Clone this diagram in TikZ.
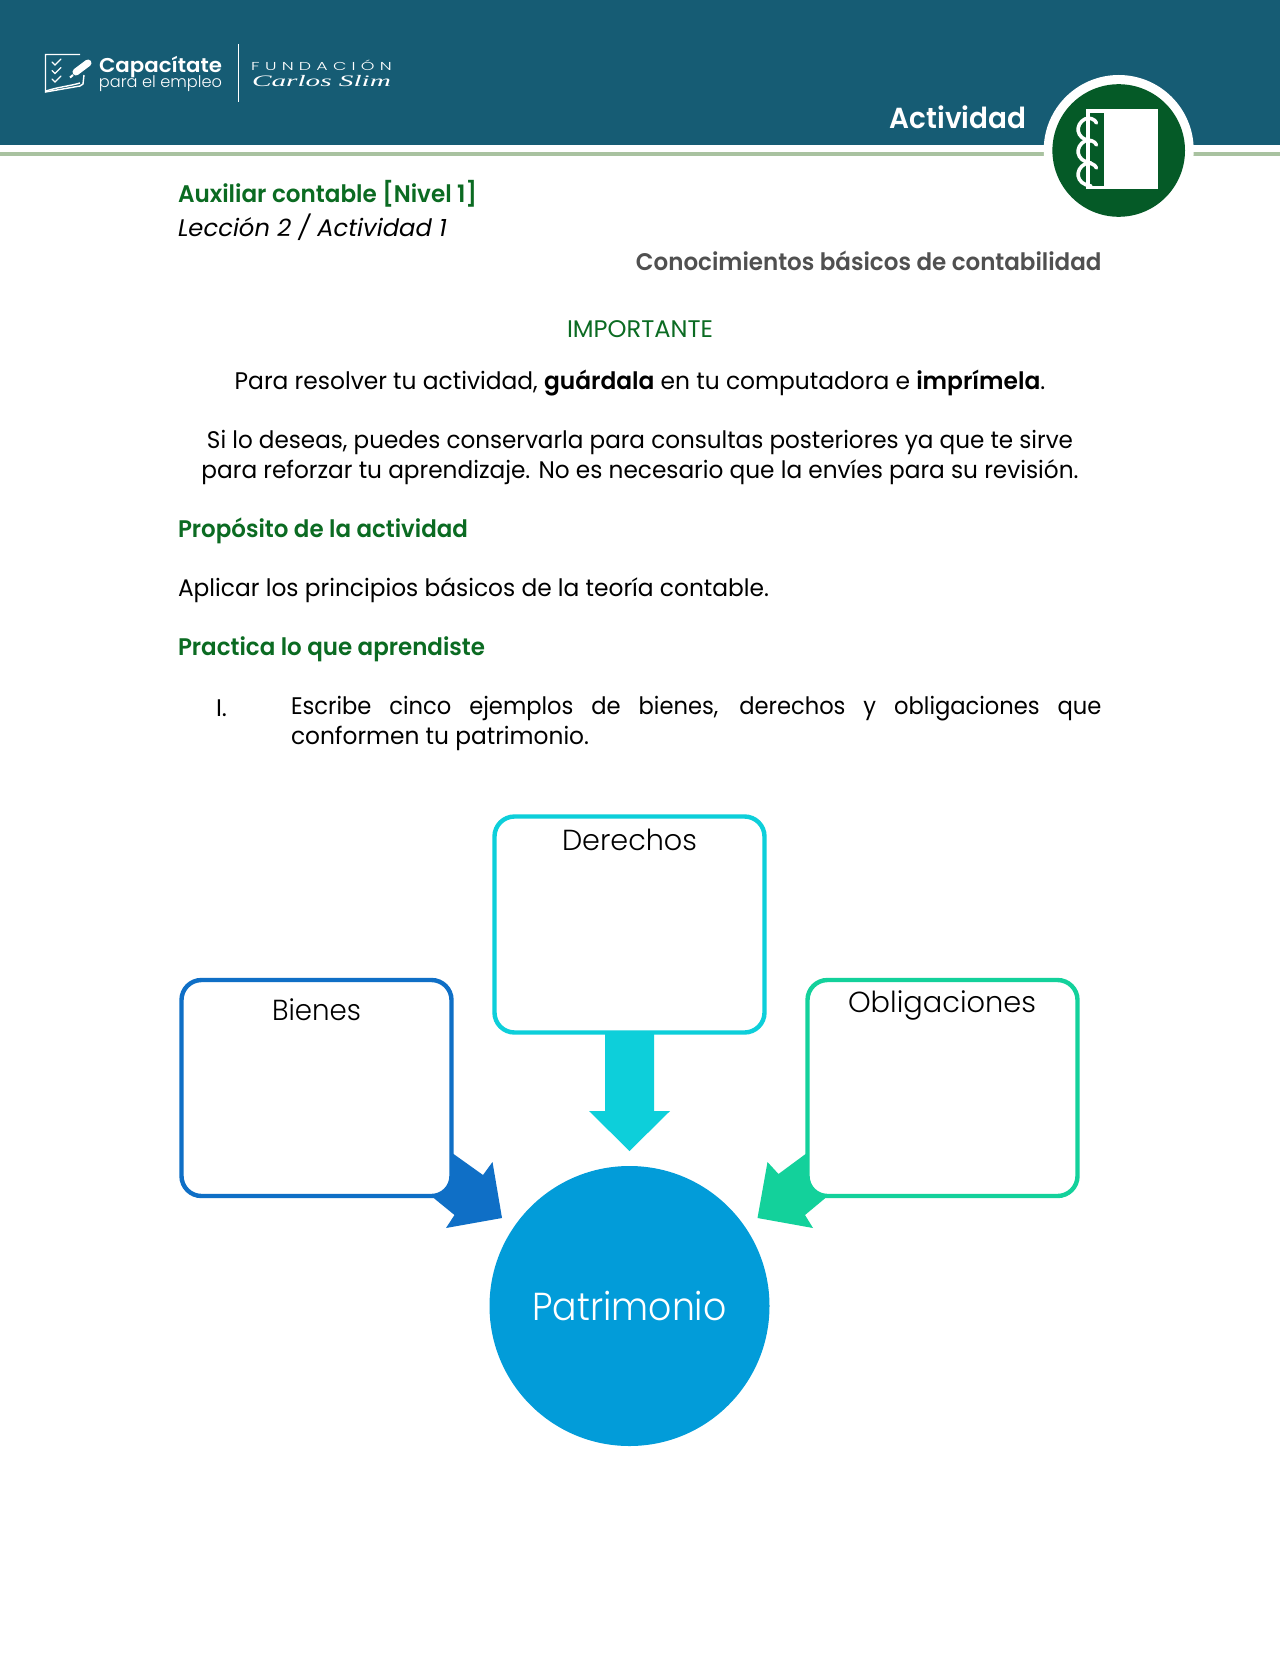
\documentclass[tikz,border=0pt]{standalone}
\usepackage{fontspec}
\usepackage{graphicx}
\setmainfont[BoldFont={Poppins SemiBold}]{Poppins}
\newfontfamily\scriptf{Liberation Serif}
\newfontfamily\lightf{Poppins Light}
\newfontfamily\spacedf[LetterSpace=30]{Poppins Light}
\definecolor{hdr}{HTML}{165C74}
\definecolor{band}{HTML}{A9C2A0}
\definecolor{dkgreen}{HTML}{055A27}
\definecolor{txgreen}{HTML}{0B6B22}
\definecolor{txgray}{HTML}{505050}
\definecolor{cblue}{HTML}{0F6FC6}
\definecolor{ccyan}{HTML}{0DCFDA}
\definecolor{cteal}{HTML}{13D19B}
\definecolor{cdisk}{HTML}{029CD9}
\newcommand{\fw}[2]{\resizebox{#1pt}{\height}{#2}}
\tikzset{
  line/.style={inner sep=0pt,outer sep=0pt,font=\fontsize{24}{24}\selectfont,text=black},
  lineL/.style={line,anchor=west},
  lineR/.style={line,anchor=east},
  head/.style={line,font=\fontsize{24}{24}\selectfont\bfseries,text=txgreen},
  headL/.style={head,anchor=west},
  topbox/.style={draw,line width=4.4pt,rounded corners=20pt,fill=white,minimum width=270pt,minimum height=216pt,inner sep=0pt,anchor=center},
  boxlabel/.style={line,font=\lightf\fontsize{29}{29}\selectfont},
  ring/.style={draw=white,line width=3.6pt,line cap=round},
  logo/.style={draw=white,line width=1.4pt},
}
\begin{document}
\begin{tikzpicture}[x=1pt,y=-1pt]
\useasboundingbox (0,0) rectangle (1280,1656);
\fill[white] (0,0) rectangle (1280,1656);
% header
\fill[hdr] (0,0) rectangle (1280,145);
\fill[band] (0,152) rectangle (1280,156);
% actividad badge
\fill[white] (1118.7,150) circle (75);
\fill[dkgreen] (1118.7,150.5) circle (66.3);
\node[line,text=white,font=\fontsize{29}{29}\selectfont\bfseries] (act) at (958,117.5) {\fw{136.5}{Actividad}};
% notebook
\fill[white] (1086,109.5) rectangle (1157.5,189.5);
\fill[dkgreen] (1090,112.7) rectangle (1104,186);
\foreach \yy in {123,145,168}{
  \draw[ring] (1096.5,\yy) .. controls (1095,\yy-4) and (1089,\yy-6) .. (1085,\yy-4) .. controls (1075,\yy+1) and (1075,\yy+16) .. (1091,\yy+18);
}
% logo
\draw[logo] (80,54.5) -- (45.5,54.5) -- (45.5,92) -- (80,86) -- (83,84) -- (84,75);
\draw[logo] (46,91) .. controls (58,87) and (70,86) .. (80,83);
\foreach \yy in {62,70.5,79}{
  \draw[logo,line cap=round] (52,\yy) -- (55,\yy+3) -- (61,\yy-3);
}
\draw[white,line width=7pt,line cap=round] (76,72) -- (88,63);
\draw[white,line width=2pt] (70,77.5) -- (73,75);
\node[line,text=white,font=\fontsize{20}{20}\selectfont\bfseries] (cap) at (160.5,67) {\fw{123}{Capacítate}};
\node[line,text=white,font=\lightf\fontsize{16}{16}\selectfont] (par) at (160.5,84) {\fw{123}{para el empleo}};
\draw[white,line width=1pt] (238.5,44) -- (238.5,102);
\node[line,text=white,font=\spacedf\fontsize{11.5}{11.5}\selectfont] (fun) at (321.5,65.5) {\fw{140.5}{FUNDACIÓN}};
\node[line,text=white,font=\scriptf\itshape\fontsize{16}{16}\selectfont] (slim) at (321.5,81.5) {\fw{139}{Carlos Slim}};
% texts
\node[headL] (t1) at (178,193.5) {\fw{299}{Auxiliar contable [Nivel 1]}};
\node[lineL,font=\fontsize{24}{24}\selectfont\itshape] (t2) at (178,227.5) {\fw{269}{Lección 2 / Actividad 1}};
\node[lineR,font=\fontsize{24}{24}\selectfont\bfseries,text=txgray] (t3) at (1101.5,261) {\fw{465.5}{Conocimientos básicos de contabilidad}};
\node[line,text=txgreen] (t4) at (640,329.5) {\fw{146}{IMPORTANTE}};
\node[line] (t5) at (640,383) {\fw{810.5}{Para resolver tu actividad, \textbf{guárdala} en tu computadora e \textbf{imprímela}.}};
\node[line] (t6) at (640,442.5) {\fw{866}{Si lo deseas, puedes conservarla para consultas posteriores ya que te sirve}};
\node[line] (t7) at (640,472) {\fw{877}{para reforzar tu aprendizaje. No es necesario que la envíes para su revisión.}};
\node[headL] (t8) at (178,530.5) {\fw{290}{Propósito de la actividad}};
\node[lineL] (t9) at (178,590.5) {\fw{591}{Aplicar los principios básicos de la teoría contable.}};
\node[headL] (t10) at (178,649.5) {\fw{307}{Practica lo que aprendiste}};
\node[lineL] (t11) at (216,708.5) {I.};
\node[lineL] (t12) at (291,708.5) {\fw{810.5}{\makebox[860pt][s]{Escribe cinco ejemplos de bienes, derechos y obligaciones que}}};
\node[lineL] (t13) at (291,738) {\fw{298}{conformen tu patrimonio.}};
% arrows
\fill[ccyan] (605,1030) -- (654,1030) -- (654,1111) -- (670,1111) -- (629.5,1151) -- (589,1111) -- (605,1111) -- cycle;
\fill[cblue] (448,1150) -- (483,1175) -- (492.5,1162) -- (502,1218) -- (446,1228) -- (454.5,1215) -- (430,1195) -- cycle;
\fill[cteal] (811,1150) -- (778.5,1174) -- (767.5,1162) -- (757.5,1218) -- (813,1228) -- (805,1215) -- (829,1195) -- cycle;
% boxes
\node[topbox,draw=ccyan] (der) at (629.5,924.5) {};
\node[topbox,draw=cblue] (bie) at (316.5,1088) {};
\node[topbox,draw=cteal] (obl) at (942.5,1088) {};
\node[boxlabel] (derl) at (629.5,840) {\fw{135}{Derechos}};
\node[boxlabel] (biel) at (316.5,1009.5) {\fw{89}{Bienes}};
\node[boxlabel] (obll) at (942,1005) {\fw{188}{Obligaciones}};
% disk
\node[circle,fill=cdisk,minimum size=280pt,inner sep=0pt,line,text=white,font=\lightf\fontsize{39}{39}\selectfont] (pat) at (629.5,1306) {\fw{194}{Patrimonio}};
\end{tikzpicture}
\end{document}
